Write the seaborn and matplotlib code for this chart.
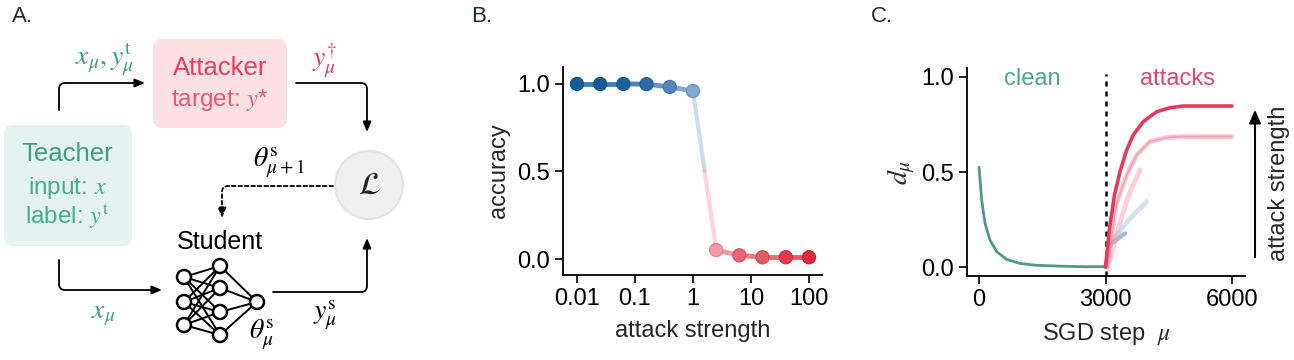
import numpy as np
import matplotlib
matplotlib.use("Agg")
import matplotlib.pyplot as plt
import seaborn as sns
from matplotlib.patches import FancyBboxPatch, Circle, FancyArrowPatch
import matplotlib.colors as mcolors

# ---------------- data ----------------
attack_strength = [0.01, 0.0251, 0.0631, 0.158, 0.398, 1.0, 2.51, 6.31, 15.8, 39.8, 100.0]
accuracy = [1.0, 1.0, 1.0, 0.999, 0.983, 0.96, 0.051, 0.021, 0.01, 0.01, 0.01]
strength_ticks = [0.01, 0.1, 1, 10, 100]
strength_ticklabels = ["0.01", "0.1", "1", "10", "100"]

clean_step = [0, 63, 142, 261, 419, 656, 972, 1368, 2040, 2500, 2988]
clean_d = [0.525, 0.353, 0.23, 0.142, 0.081, 0.04, 0.019, 0.009, 0.004, 0.002, 0.002]

att1_step = [3000, 3095, 3213, 3344, 3502, 3660, 3897, 4214, 4530, 4846, 6000]
att1_d = [0.0, 0.204, 0.379, 0.502, 0.616, 0.695, 0.765, 0.817, 0.838, 0.847, 0.847]
att2_step = [3030, 3055, 3253, 3502, 3739, 4055, 4450, 4766, 6000]
att2_d = [0.0, 0.028, 0.326, 0.484, 0.59, 0.66, 0.681, 0.686, 0.686]
att3_step = [3050, 3095, 3344, 3581, 3818]
att3_d = [0.0, 0.028, 0.238, 0.396, 0.51]
att4_step = [3030, 3134, 3581, 3976]
att4_d = [0.0, 0.133, 0.256, 0.344]
att5_step = [3010, 3095, 3462]
att5_d = [0.0, 0.116, 0.177]

step_ticks = [0, 3000, 6000]

# ---------------- style ----------------
sns.set_theme(style="ticks")
plt.rcParams["font.family"] = ["Liberation Sans", "DejaVu Sans"]
plt.rcParams["mathtext.fontset"] = "stix"

W, H = 1294, 360
fig = plt.figure(figsize=(W / 100, H / 100), dpi=100)

TEAL = "#3f9e89"
TEAL_LINE = "#4f9a8a"
RED = "#e23a5c"
FS = 17

def fpos(l, r, t, b):
    return [l / W, 1 - b / H, (r - l) / W, (b - t) / H]

# ---------------- Panel A (diagram) ----------------
axA = fig.add_axes([0, 0, 430 / W, 1])
axA.set_xlim(0, 430)
axA.set_ylim(360, 0)
axA.axis("off")

axA.add_patch(FancyBboxPatch((4, 125), 128, 121, boxstyle="round,pad=0,rounding_size=9",
                             fc="#e4f3ef", ec="none"))
axA.add_patch(FancyBboxPatch((153, 39), 134, 89, boxstyle="round,pad=0,rounding_size=9",
                             fc="#fce0e4", ec="none"))
axA.text(67, 154, "Teacher", color=TEAL, fontsize=18.5, ha="center", va="center")
axA.text(67, 188, "input: $x$", color="#4aa893", fontsize=17.5, ha="center", va="center")
axA.text(67, 217, "label: $y^{\\rm t}$", color="#4aa893", fontsize=17.5, ha="center", va="center")
axA.text(220, 68, "Attacker", color="#e6405c", fontsize=18.5, ha="center", va="center")
axA.text(220, 100, "target: $y$*", color="#e45a72", fontsize=17.5, ha="center", va="center")

axA.add_patch(Circle((369, 185), 34, fc="#f0f0f0", ec="#e3e3e3", lw=1.5))
axA.text(369, 186, "$\\mathcal{L}$", fontsize=23, ha="center", va="center", color="#222222")

def arrow(p0, p1, aA, aB, ls="-"):
    a = FancyArrowPatch(p0, p1, arrowstyle="-|>,head_length=0.6,head_width=0.25",
                        connectionstyle=f"angle,angleA={aA},angleB={aB},rad=6",
                        mutation_scale=10, lw=1.3, color="black", linestyle=ls,
                        shrinkA=0, shrinkB=0)
    axA.add_patch(a)

arrow((59, 110), (145, 83), 90, 0)
arrow((296, 83), (367, 132), 0, 90)
arrow((333, 186), (222, 218), 0, 90, ls=(0, (2, 1.6)))
arrow((59, 260), (162, 290), 90, 0)
arrow((273, 292), (367, 238), 0, 90)

MS = 20
axA.text(105, 60, "$x_\\mu, y^{\\rm t}_\\mu$", color=TEAL, fontsize=MS, ha="center", va="center")
axA.text(325, 60, "$y^{\\dagger}_\\mu$", color="#e23a5c", fontsize=MS, ha="center", va="center")
axA.text(279, 163, "$\\theta^{\\rm s}_{\\mu+1}$", color="black", fontsize=MS, ha="center", va="center")
axA.text(103, 315, "$x_\\mu$", color=TEAL, fontsize=MS, ha="center", va="center")
axA.text(325, 315, "$y^{\\rm s}_\\mu$", color="black", fontsize=MS, ha="center", va="center")
axA.text(262, 335, "$\\theta^{\\rm s}_\\mu$", color="black", fontsize=MS, ha="center", va="center")
axA.text(220, 242, "Student", color="black", fontsize=18, ha="center", va="center")

layers = [(184, [277, 302, 325]), (220, [266, 288, 312, 335]), (257, [302])]
for (x0, ys0), (x1, ys1) in zip(layers[:-1], layers[1:]):
    for y0 in ys0:
        for y1 in ys1:
            axA.plot([x0, x1], [y0, y1], color="black", lw=1.4, zorder=2)
for x0, ys0 in layers:
    for y0 in ys0:
        axA.add_patch(Circle((x0, y0), 7, fc="white", ec="black", lw=1.8, zorder=3))

# ---------------- Panel B ----------------
axB = fig.add_axes(fpos(563, 822, 67, 275))
pt_colors = ["#135d99", "#155e9a", "#1b629d", "#2b6ca6", "#5387bb", "#80a8d0",
             "#f49aa6", "#ee6177", "#e05c60", "#e0384c", "#e02a3e"]
edge_colors = [mcolors.to_hex(np.array(mcolors.to_rgb(c)) * 0.85) for c in pt_colors]
xs = np.array(attack_strength)
ys = np.array(accuracy)
for i in range(len(xs) - 1):
    c0 = np.array(mcolors.to_rgb(pt_colors[i]))
    c1 = np.array(mcolors.to_rgb(pt_colors[i + 1]))
    if abs(ys[i] - ys[i + 1]) > 0.5:
        xm = np.sqrt(xs[i] * xs[i + 1])
        ym = 0.5 * (ys[i] + ys[i + 1])
        sns.lineplot(x=[xs[i], xm], y=[ys[i], ym], ax=axB, color=c0, lw=3, alpha=0.4, sort=False)
        sns.lineplot(x=[xm, xs[i + 1]], y=[ym, ys[i + 1]], ax=axB, color=c1, lw=3, alpha=0.4, sort=False)
    else:
        sns.lineplot(x=[xs[i], xs[i + 1]], y=[ys[i], ys[i + 1]], ax=axB,
                     color=(c0 + c1) / 2, lw=3.5, alpha=0.8, sort=False)
sns.scatterplot(x=xs, y=ys, ax=axB, c=pt_colors, s=90, edgecolor=edge_colors,
                linewidth=0.8, zorder=5, legend=False)
axB.set_xscale("log")
axB.set_xlim(0.00574, 167.7)
axB.set_ylim(-0.0914, 1.097)
axB.set_xticks(strength_ticks)
axB.set_xticklabels(strength_ticklabels)
axB.minorticks_off()
axB.set_yticks([0, 0.5, 1.0])
axB.set_yticklabels(["0.0", "0.5", "1.0"])
axB.set_xlabel("attack strength", fontsize=FS, labelpad=7)
axB.set_ylabel("accuracy", fontsize=FS, labelpad=5)

# ---------------- Panel C ----------------
axC = fig.add_axes(fpos(967, 1245, 68, 276))
sns.lineplot(x=clean_step, y=clean_d, ax=axC, color=TEAL_LINE, lw=2)
axC.axvline(3000, ymin=0, ymax=0.97, color="black", lw=1.8, ls=(0, (2, 2)))
sns.lineplot(x=att5_step, y=att5_d, ax=axC, color="#2c6aa6", lw=3, alpha=0.45)
sns.lineplot(x=att4_step, y=att4_d, ax=axC, color="#8fb6d8", lw=3.5, alpha=0.4)
sns.lineplot(x=att3_step, y=att3_d, ax=axC, color="#f4a3b2", lw=3.5, alpha=0.5)
sns.lineplot(x=att2_step, y=att2_d, ax=axC, color="#ee7d94", lw=3.5, alpha=0.4)
sns.lineplot(x=att2_step, y=att2_d, ax=axC, color="#ef8a9e", lw=1.3, alpha=0.6)
sns.lineplot(x=att1_step, y=att1_d, ax=axC, color=RED, lw=2.6)
axC.set_xlim(-285, 6308)
axC.set_ylim(-0.047, 1.047)
axC.set_xticks(step_ticks)
axC.set_yticks([0, 0.5, 1.0])
axC.set_yticklabels(["0.0", "0.5", "1.0"])
axC.set_xlabel("SGD step  $\\mu$", fontsize=FS, labelpad=7)
axC.set_ylabel("$d_\\mu$", fontsize=20, labelpad=3)
axC.text(1257, 0.99, "clean", color="#4aa890", fontsize=FS, ha="center", va="center")
axC.text(4719, 0.99, "attacks", color="#e4456a", fontsize=FS, ha="center", va="center")

fig.patches.append(FancyArrowPatch((1255 / W, 1 - 260 / H), (1255 / W, 1 - 107 / H),
                                   transform=fig.transFigure, arrowstyle="-|>,head_length=0.8,head_width=0.35",
                                   mutation_scale=10, lw=1.5, color="black"))
fig.text(1279 / W, 1 - 183 / H, "attack strength", rotation=90, fontsize=FS,
         ha="center", va="center")

for ax in (axB, axC):
    sns.despine(ax=ax)
    for s in ("left", "bottom"):
        ax.spines[s].set_linewidth(1.3)
        ax.spines[s].set_color("black")
    ax.tick_params(axis="both", labelsize=FS, length=6, width=1.2, color="black", labelcolor="black")

fig.text(22 / W, 1 - 16 / H, "A.", fontsize=16, ha="center", va="center")
fig.text(482 / W, 1 - 16 / H, "B.", fontsize=16, ha="center", va="center", color="#1a2a3a")
fig.text(882 / W, 1 - 16 / H, "C.", fontsize=16, ha="center", va="center")

fig.savefig("out.png", dpi=100)
